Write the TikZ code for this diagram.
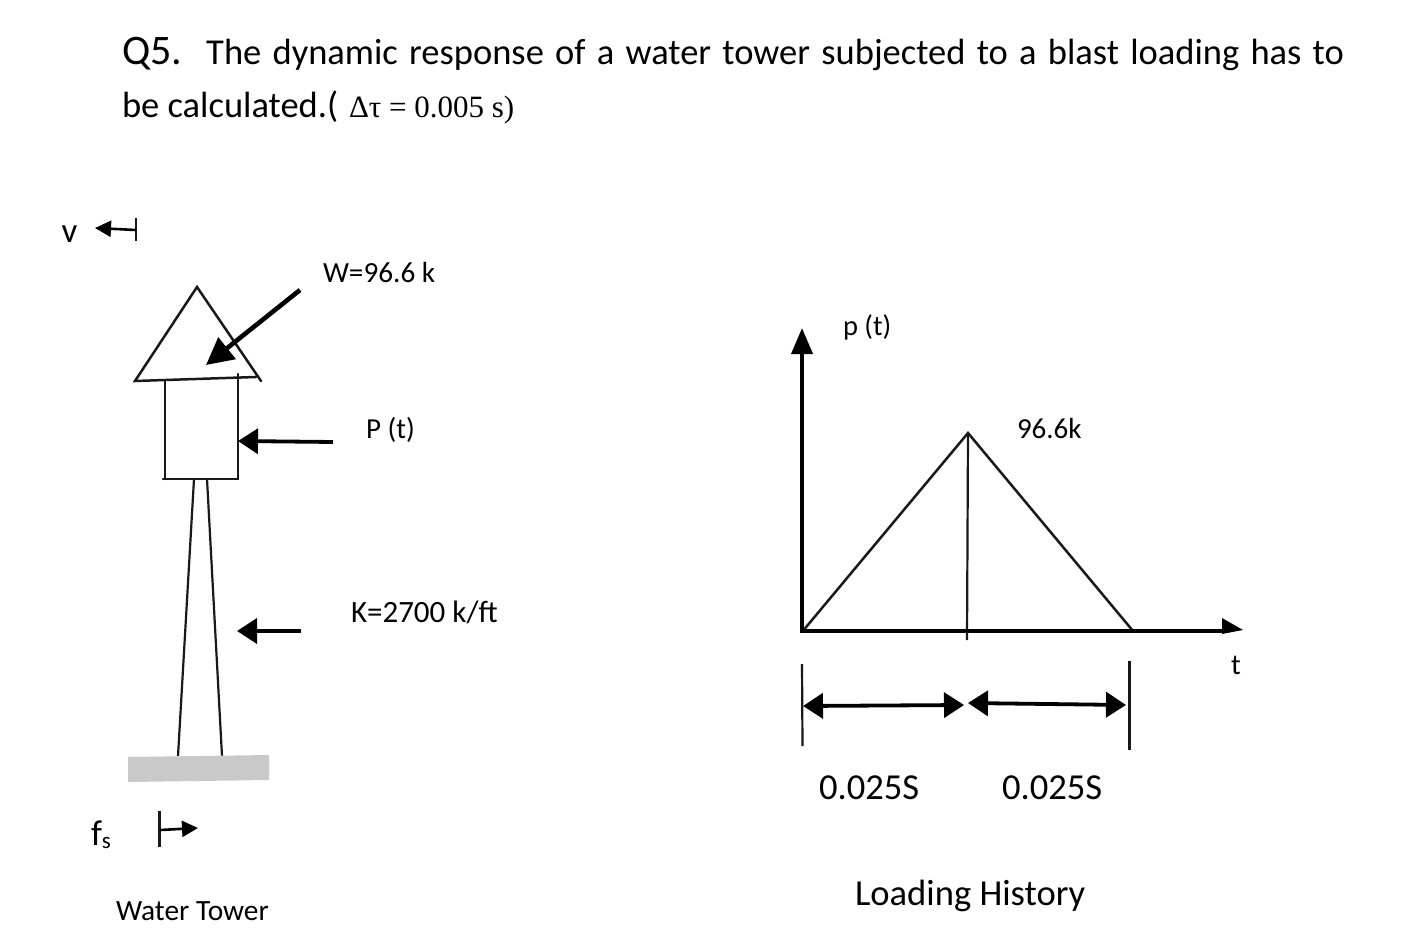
\documentclass[tikz,border=0pt]{standalone}
\usepackage{fontspec}
\setmainfont{Carlito}
\newfontfamily\serifgreek{Liberation Serif}
\usetikzlibrary{arrows.meta}
\tikzset{
  txt/.style={inner sep=0pt,outer sep=0pt,font=\fontsize{#1}{#1}\selectfont,text=black,anchor=base west},
  thin line/.style={line width=2.5pt,black!90,line cap=round,line join=miter},
  fine line/.style={line width=2.2pt,black!90},
  big arrow/.style={line width=3.8pt,black,-{Triangle[length=20pt,width=25pt]},shorten >=0pt},
  large arrow/.style={line width=4.6pt,black,-{Triangle[length=27pt,width=27pt]}},
  dim arrow/.style={line width=3.8pt,black,{Triangle[length=20pt,width=25pt]}-{Triangle[length=20pt,width=25pt]}},
  small arrow/.style={line width=2.6pt,black,-{Triangle[length=16pt,width=16pt]}},
  axis line/.style={line width=3.8pt,black}
}
\begin{document}
\begin{tikzpicture}[x=1pt,y=-1pt]
\useasboundingbox (0,0) rectangle (1423,949);
% heading
\node[txt=36.5] (l1) at (122,64.5) {\makebox[1222pt][s]{{\fontsize{42}{42}\selectfont Q5.}\hspace{4pt} The dynamic response of a water tower subjected to a blast loading has to}};
\node[txt=36.5] (l2a) at (122,118) {be calculated.(};
\node[txt=31] (l2b) at (349,118) {\serifgreek Δτ = 0.005 s)};
% coordinates, tower
\coordinate (apex) at (197,287);
\coordinate (roofL) at (135,381);
\coordinate (roofR) at (261,381);
\coordinate (baseR) at (256,377);
\coordinate (boxTL) at (165,381);
\coordinate (boxBL) at (163,479);
\coordinate (boxBLc) at (165,479);
\coordinate (boxTR) at (238,374);
\coordinate (boxBR) at (238,479);
% roof & tank
\draw[thin line] (roofR) -- (apex) -- (roofL) -- (baseR);
\draw[thin line] (boxTL) -- (boxBLc);
\draw[thin line] (boxBL) -- (boxBR) -- (boxTR);
% shaft
\coordinate (sL1) at (194,479); \coordinate (sL2) at (178,756);
\coordinate (sR1) at (207,479); \coordinate (sR2) at (222,756);
\draw[fine line] (sL1) -- (sL2);
\draw[fine line] (sR1) -- (sR2);
% ground
\fill[black!21] (128,757) -- (269,755) -- (269,780) -- (128,782) -- cycle;
% v
\node[txt=35] (v) at (61.5,243) {v};
\coordinate (vBarT) at (136,218); \coordinate (vBarB) at (136,241);
\coordinate (vS) at (136,230); \coordinate (vE) at (95,228);
\draw[fine line] (vBarT) -- (vBarB);
\draw[small arrow] (vS) -- (vE);
% W
\node[txt=29.2] (w) at (323,283) {W=96.6 k};
\coordinate (wS) at (300,290); \coordinate (wE) at (206,365);
\draw[large arrow] (wS) -- (wE);
% P
\node[txt=29] (p) at (366,438) {P (t)};
\coordinate (pS) at (333,442); \coordinate (pE) at (238,441);
\draw[big arrow] (pS) -- (pE);
% K
\node[txt=31] (k) at (351,622) {K=2700 k/ft};
\coordinate (kS) at (301,631); \coordinate (kE) at (237,631);
\draw[big arrow] (kS) -- (kE);
% fs
\node[txt=36] (fs) at (91,845) {f\raisebox{-3pt}{\fontsize{23}{23}\selectfont s}};
\coordinate (fBarT) at (159.5,811); \coordinate (fBarB) at (159.5,847);
\coordinate (fS) at (160,830); \coordinate (fE) at (198,828);
\draw[fine line] (fBarT) -- (fBarB);
\draw[small arrow] (fS) -- (fE);
\node[txt=29.4] (wt) at (116,920.5) {Water Tower};
% p(t) plot
\coordinate (O) at (802,632);
\coordinate (yT) at (802,328);
\coordinate (xS) at (800,631); \coordinate (xE) at (1224,631);
\coordinate (pk) at (968,433);
\coordinate (pkB) at (967,640);
\coordinate (tE) at (1133,631);
\draw[fine line,line width=2.5pt] (O) -- (pk) -- (tE);
\draw[fine line] (pk) -- (pkB);
\draw[line width=3.8pt,black,-{Triangle[length=26pt,width=21pt]}] (O) -- (yT);
\draw[axis line] (xS) -- (xE);
\fill[black] (1222,618) -- (1243,630) -- (1222,634) -- cycle;
\node[txt=28.5] (pt) at (843,335) {p (t)};
\node[txt=29] (pkl) at (1017,438) {96.6k};
\node[txt=29] (tl) at (1231,674) {t};
% dimensions
\coordinate (d1T) at (802,664); \coordinate (d1B) at (802.5,746);
\coordinate (d2T) at (1129.5,661); \coordinate (d2B) at (1129.5,750);
\draw[fine line] (d1T) -- (d1B);
\draw[fine line] (d2T) -- (d2B);
\coordinate (a1S) at (803,706); \coordinate (a1E) at (964,705);
\coordinate (a2S) at (968,703); \coordinate (a2E) at (1126,705);
\draw[dim arrow] (a1S) -- (a1E);
\draw[dim arrow] (a2S) -- (a2E);
\node[txt=36.6] (t1) at (819,799) {0.025S};
\node[txt=36.6] (t2) at (1002,799) {0.025S};
\node[txt=36.6] (lh) at (855,905) {Loading History};
\end{tikzpicture}
\end{document}
